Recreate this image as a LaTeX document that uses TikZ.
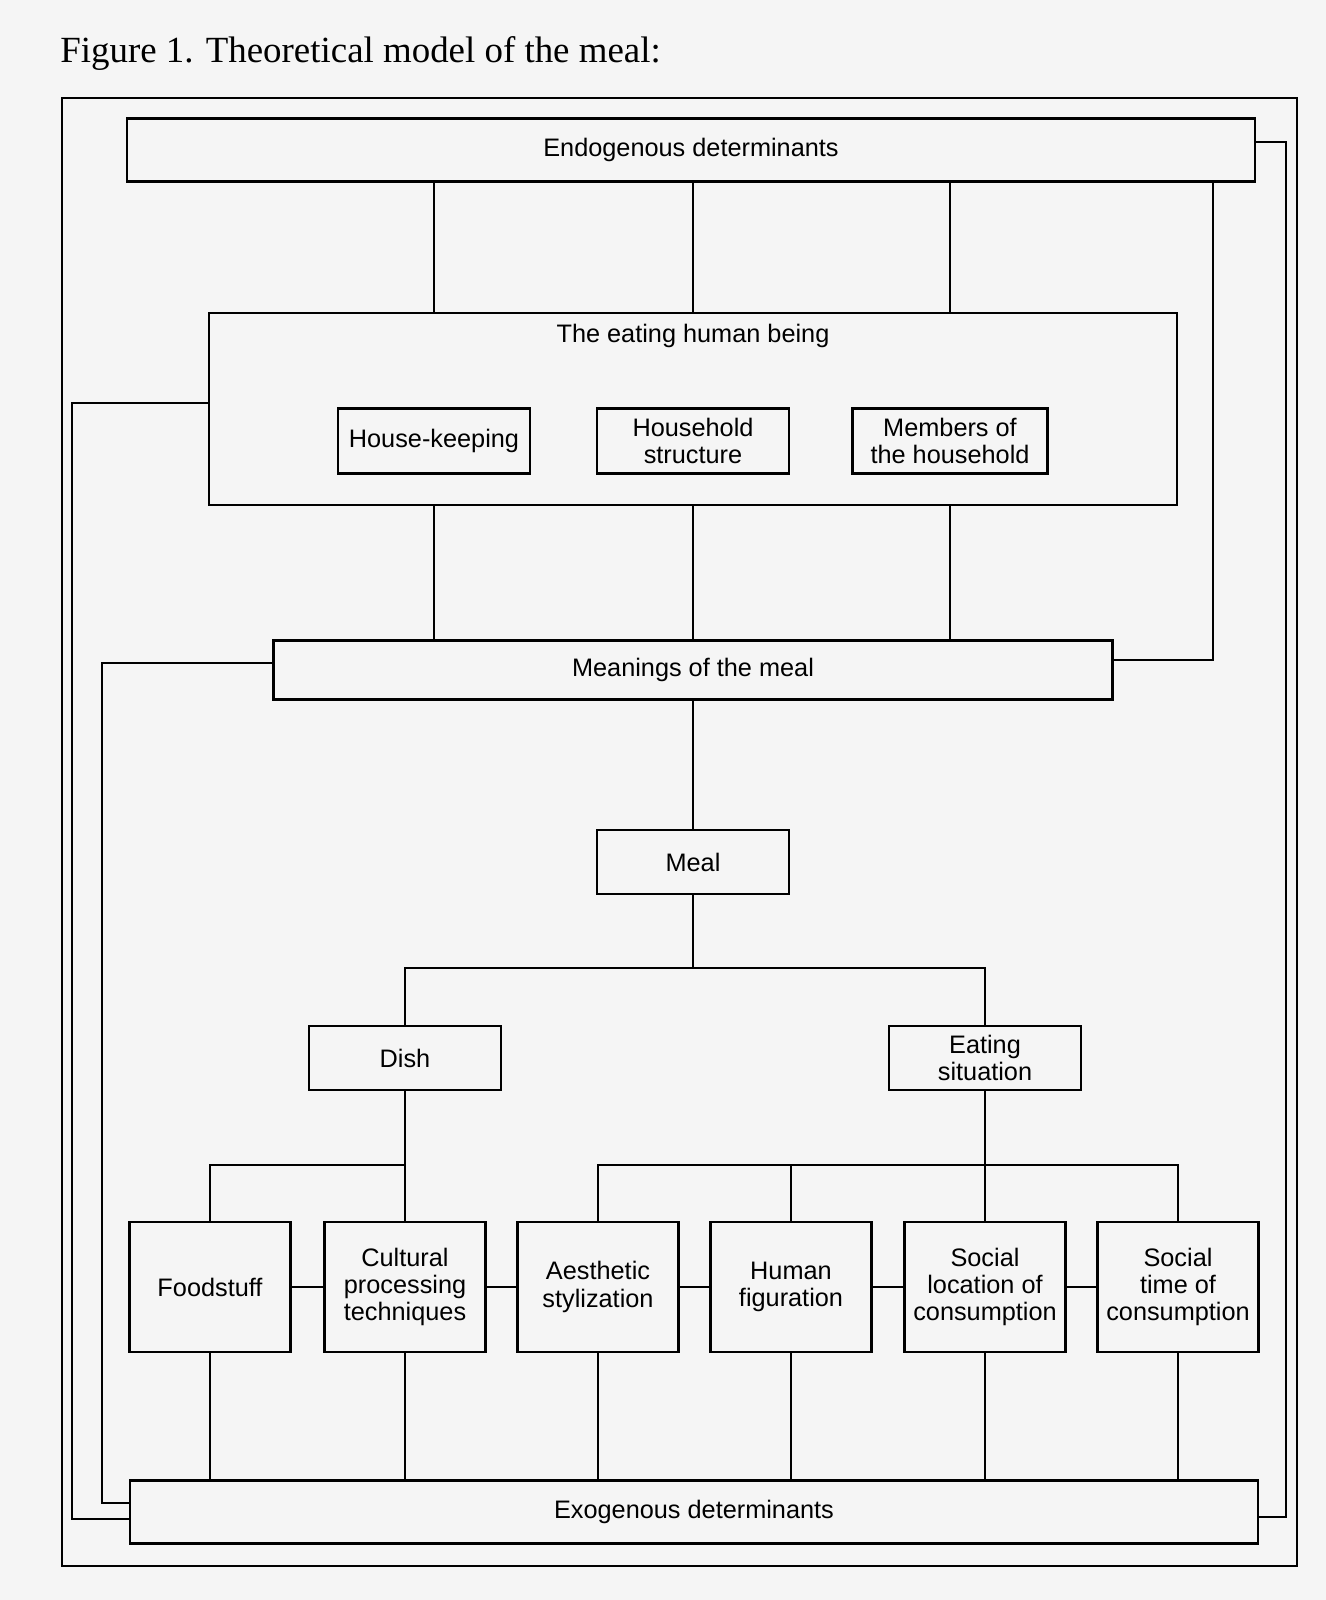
\documentclass[tikz,border=0pt]{standalone}
\usepackage{fontspec}
\newfontfamily\diagfont{Liberation Sans}
\newfontfamily\titlefont{Liberation Serif}

\begin{document}
\begin{tikzpicture}[x=0.02cm,y=-0.02cm,
  every node/.style={font=\diagfont\fontsize{14.4}{15.6}\selectfont},
  box/.style={draw=black,line width=1.5pt,align=center,inner sep=0pt,minimum width=3.84cm,minimum height=1.28cm},
  wide/.style={box,minimum width=22.56cm,minimum height=1.26cm},
  leaf/.style={box,minimum width=3.22cm,minimum height=2.6cm},
  conn/.style={line width=1.4pt}]
\fill[black!4] (0,0) rectangle (1326,1600);
\useasboundingbox (0,0) rectangle (1326,1600);
\node[anchor=base west,inner sep=0pt,font=\titlefont\fontsize{21}{25}\selectfont] (title) at (60,62) {Figure 1. Theoretical model of the meal:};
\draw[line width=1pt] (62,98) rectangle (1297,1566);
% upper part
\node[wide] (endo) at (691,150) {Endogenous determinants};
\node[box,minimum width=19.36cm,minimum height=3.84cm] (ehb) at (693,409) {};
\node (ehbt) at (693,336) {The eating human being};
\node[box,minimum height=1.3cm] (hk) at (434,441) {House-keeping};
\node[box,minimum height=1.3cm] (hs) at (693,441) {Household\\structure};
\node[box,minimum width=3.9cm,minimum height=1.3cm] (mh) at (950,441) {Members of\\the household};
\node[box,minimum width=16.78cm,minimum height=1.18cm] (mean) at (693,670) {Meanings of the meal};
\node[box] (meal) at (693,862) {Meal};
\node[box] (dish) at (405,1058) {Dish};
\node[box] (esit) at (985,1058) {Eating\\situation};
% lower row
\node[leaf] (food) at (210,1287) {Foodstuff};
\node[leaf] (cult) at (405,1287) {Cultural\\processing\\techniques};
\node[leaf] (aes) at (598,1287) {Aesthetic\\stylization};
\node[leaf] (hfig) at (791,1287) {Human\\figuration};
\node[leaf] (sloc) at (985,1287) {Social\\location of\\consumption};
\node[leaf] (stime) at (1178,1287) {Social\\time of\\consumption};
\node[wide] (exo) at (694,1512) {Exogenous determinants};
% junctions and rails
\coordinate (jmeal) at (693,968);
\coordinate (jdish) at (405,1165);
\coordinate (jsit) at (985,1165);
\coordinate (railL1) at (72,900);
\coordinate (railL2) at (102,900);
\coordinate (railR1) at (1213,400);
\coordinate (railR2) at (1286,800);
\foreach \n in {hk,hs,mh} {
  \draw[conn] (\n |- endo.south) -- (\n |- ehb.north);
  \draw[conn] (\n |- ehb.south) -- (\n |- mean.north);
}
\draw[conn] (meal.north |- mean.south) -- (meal.north);
\draw[conn] (meal) -- (jmeal);
\draw[conn] (dish.north) |- (jmeal) -| (esit.north);
\draw[conn] (dish) -- (cult);
\draw[conn] (food.north) |- (jdish);
\draw[conn] (esit) -- (sloc);
\draw[conn] (aes.north) |- (jsit) -| (stime.north);
\draw[conn] (hfig.north) -- (hfig.north |- jsit);
\foreach \a/\b in {food/cult,cult/aes,aes/hfig,hfig/sloc,sloc/stime}
  \draw[conn] (\a) -- (\b);
\foreach \n in {food,cult,aes,hfig,sloc,stime}
  \draw[conn] (\n) -- (\n |- exo.north);
% feedback lines
\draw[conn] ([yshift=1.2mm]ehb.west) -| (railL1) |- ([yshift=-1.4mm]exo.west);
\draw[conn] ([yshift=1.4mm]mean.west) -| (railL2) |- ([yshift=1.8mm]exo.west);
\draw[conn] (railR1 |- endo.south) -- (railR1) |- ([yshift=2mm]mean.east);
\draw[conn] ([yshift=1.6mm]endo.east) -| (railR2) |- ([yshift=-1mm]exo.east);
\end{tikzpicture}
\end{document}
